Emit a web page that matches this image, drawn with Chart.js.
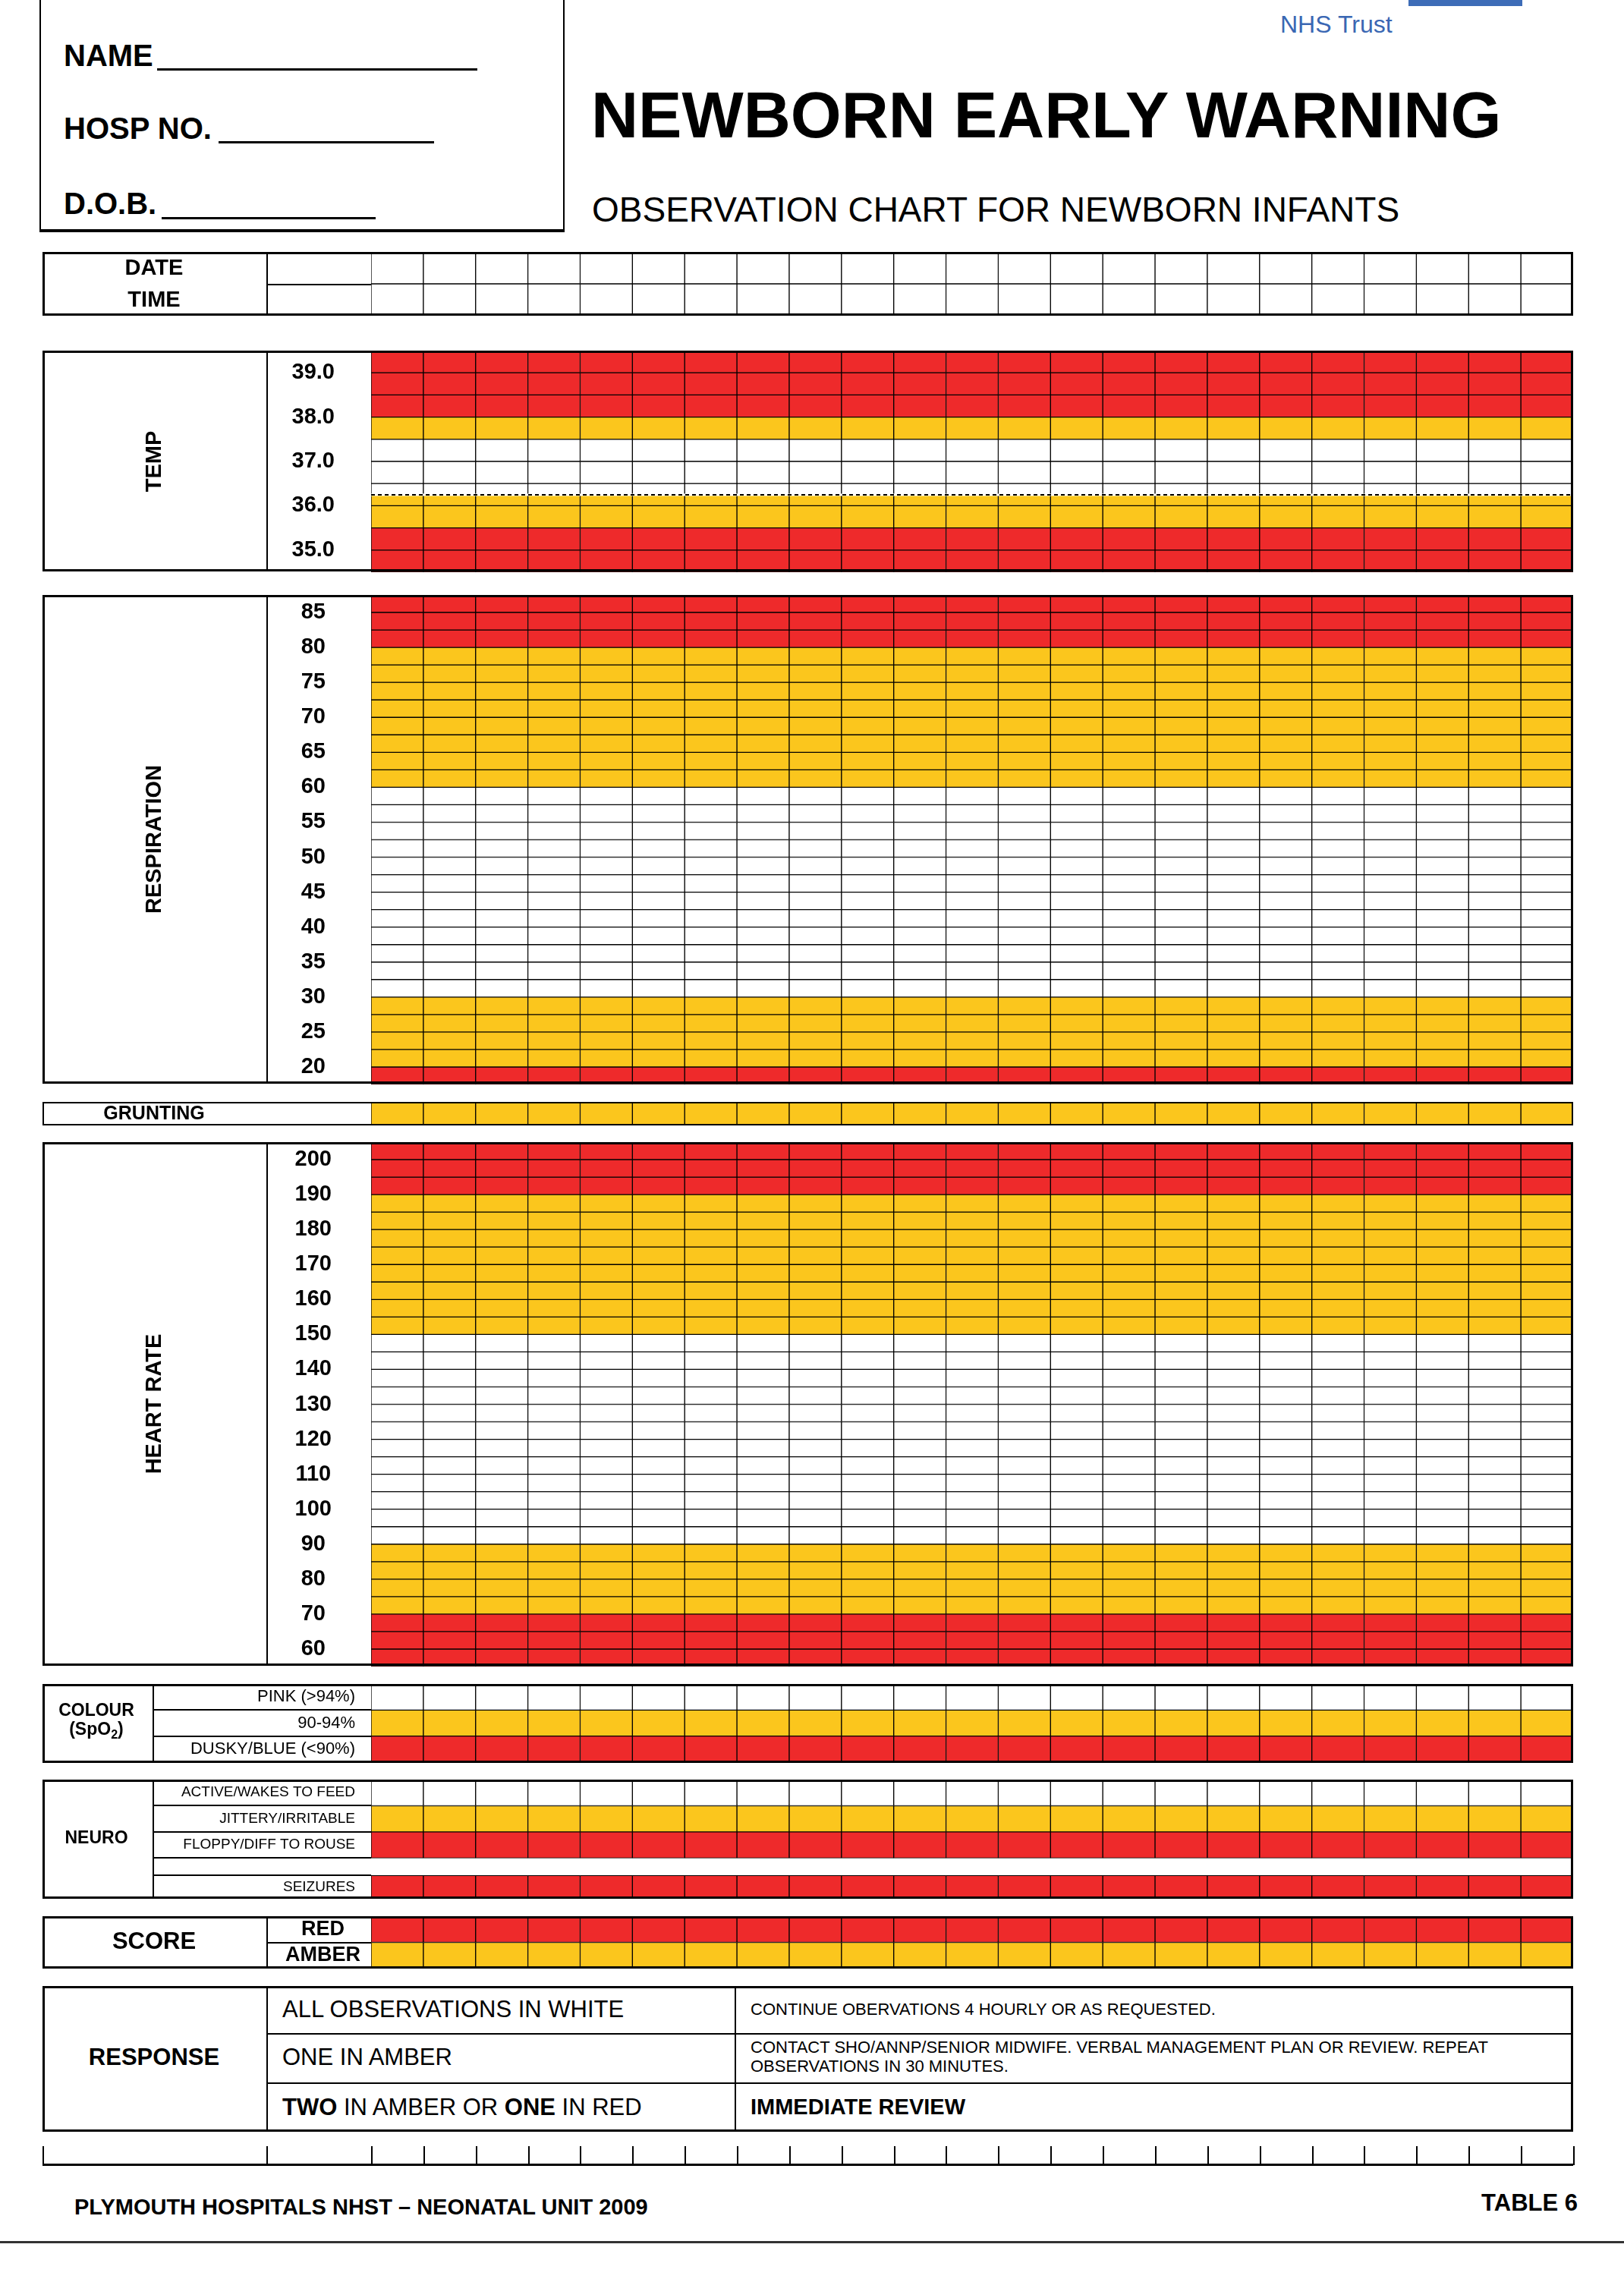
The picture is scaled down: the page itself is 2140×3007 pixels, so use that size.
<!DOCTYPE html>
<html>
<head>
<meta charset="utf-8">
<script src="https://cdn.jsdelivr.net/npm/chart.js@4/dist/chart.umd.min.js"></script>
<style>
  html, body { margin: 0; padding: 0; background: #fff; }
  body { position: relative; width: 2140px; height: 3007px; overflow: hidden; font-family: 'Liberation Sans', Arial, sans-serif; color: #000; }
  canvas { position: absolute; }
</style>
</head>
<body>
<script>
// ---- data ----
const columns = ['1','2','3','4','5','6','7','8','9','10','11','12','13','14','15','16','17','18','19','20','21','22','23'];

const tempTicks = [39, 38, 37, 36, 35];
const tempRowEdges = [39.5, 39, 38.5, 38, 37.5, 37, 36.5, 36.25, 36, 35.5, 35, 34.5];
const tempRowColours = ['R', 'R', 'R', 'A', 'W', 'W', 'W', 'A', 'A', 'R', 'R'];
const tempDashedAt = 36.25;

const respTicks = [85, 80, 75, 70, 65, 60, 55, 50, 45, 40, 35, 30, 25, 20];
const respBands = [[87.5, 80, 'R'], [80, 60, 'A'], [60, 30, 'W'], [30, 20, 'A'], [20, 17.5, 'R']];
const respStep = 2.5;

const hrTicks = [200, 190, 180, 170, 160, 150, 140, 130, 120, 110, 100, 90, 80, 70, 60];
const hrBands = [[205, 190, 'R'], [190, 150, 'A'], [150, 90, 'W'], [90, 70, 'A'], [70, 55, 'R']];
const hrStep = 5;

const colourLabels = ['PINK (>94%)', '90-94%', 'DUSKY/BLUE (<90%)'];
const colourColours = ['W', 'A', 'R'];

const neuroLabels = ['ACTIVE/WAKES TO FEED', 'JITTERY/IRRITABLE', 'FLOPPY/DIFF TO ROUSE', '', 'SEIZURES'];
const neuroColours = ['W', 'A', 'R', null, 'R'];

const scoreLabels = ['RED', 'AMBER'];
const scoreColours = ['R', 'A'];

const dateTimeLabels = ['DATE', 'TIME'];
const gruntingColours = ['A'];

const palette = { R: '#ee2a2b', A: '#fbc61d', W: '#ffffff' };

// ---- layout helpers (positions given in half-scale units) ----
const S = 2140 / 1116;
const d = v => Math.round(v * S);
const FONT = "'Liberation Sans', Arial, sans-serif";

function div(x, y, w, h, css, html) {
  const e = document.createElement('div');
  e.style.cssText = `position:absolute;box-sizing:border-box;left:${d(x)}px;top:${d(y)}px;width:${d(w)}px;height:${d(h)}px;` + (css || '');
  if (html != null) e.innerHTML = html;
  document.body.appendChild(e);
  return e;
}
function text(x, y, str, size, css) {
  const e = document.createElement('div');
  e.style.cssText = `position:absolute;left:${d(x)}px;top:${d(y)}px;transform:translateY(-50%);white-space:nowrap;font-size:${d(size)}px;line-height:1.1;` + (css || '');
  e.innerHTML = str;
  document.body.appendChild(e);
  return e;
}
function hline(x, y, w, t) { div(x, y, w, 0, `height:${t}px;background:#000;`); }
function vline(x, y, h, t) { div(x, y, 0, h, `width:${t}px;background:#000;`); }

function bandsToRows(bands, step) {
  const rows = [];
  bands.forEach(([top, bottom, c]) => {
    for (let v = top; v > bottom + 1e-9; v -= step) rows.push({ top: v, bottom: v - step, c });
  });
  return rows;
}

function gridChart(o) {
  const cv = document.createElement('canvas');
  cv.width = d(o.x2) - d(o.x1);
  cv.height = d(o.y2) - d(o.y1);
  cv.style.left = d(o.x1) + 'px';
  cv.style.top = d(o.y1) + 'px';
  document.body.appendChild(cv);

  const datasets = o.rows.filter(r => r.c).map(r => ({
    data: columns.map(() => [r.bottom, r.top]),
    backgroundColor: palette[r.c],
    borderColor: '#000',
    borderWidth: 1,
    borderSkipped: false,
    grouped: false,
    categoryPercentage: 1,
    barPercentage: 1
  }));

  const rulesPlugin = {
    id: 'rules',
    afterDatasetsDraw(chart) {
      const ctx = chart.ctx, y = chart.scales.y, a = chart.chartArea;
      ctx.save();
      if (o.rules) {
        ctx.strokeStyle = '#000'; ctx.lineWidth = 2;
        o.rules.forEach(v => {
          const p = Math.round(y.getPixelForValue(v));
          ctx.beginPath(); ctx.moveTo(0, p); ctx.lineTo(a.left, p); ctx.stroke();
        });
      }
      if (o.dashed != null) {
        const p = Math.round(y.getPixelForValue(o.dashed));
        ctx.strokeStyle = '#fff'; ctx.lineWidth = 3;
        ctx.beginPath(); ctx.moveTo(a.left, p); ctx.lineTo(a.right, p); ctx.stroke();
        ctx.strokeStyle = '#000'; ctx.lineWidth = 2; ctx.setLineDash([5, 4]);
        ctx.beginPath(); ctx.moveTo(a.left, p); ctx.lineTo(a.right, p); ctx.stroke();
      }
      ctx.restore();
    }
  };

  new Chart(cv, {
    type: 'bar',
    data: { labels: columns, datasets },
    plugins: [rulesPlugin],
    options: {
      responsive: false,
      animation: false,
      devicePixelRatio: 1,
      layout: { padding: 0 },
      plugins: { legend: { display: false }, tooltip: { enabled: false } },
      scales: {
        x: { type: 'category', display: false, offset: true },
        y: {
          type: 'linear',
          display: !!o.axisW,
          reverse: !!o.reverse,
          min: o.min, max: o.max,
          afterFit: s => { s.width = d(o.axisW || 0); s.paddingTop = 0; s.paddingBottom = 0; },
          afterBuildTicks: s => { s.ticks = (o.ticks || []).map(v => ({ value: v })); },
          grid: { display: false },
          border: { display: false },
          ticks: {
            autoSkip: false,
            color: '#000',
            padding: d(o.pad || 4),
            crossAlign: o.crossAlign || 'near',
            font: { family: FONT, size: d(o.fontSize || 15), weight: o.bold ? 'bold' : 'normal' },
            callback: o.label || (v => v.toFixed(o.decimals || 0))
          }
        }
      }
    }
  });
}

function edgesToRows(edges, colours) {
  return colours.map((c, i) => ({ top: edges[i], bottom: edges[i + 1], c }));
}
function catRows(colours, heights) {
  const edges = [0];
  heights.forEach(h => edges.push(edges[edges.length - 1] + h));
  return { rows: colours.map((c, i) => ({ top: edges[i + 1], bottom: edges[i], c })), edges };
}

const X0 = 29, XL = 183, XV = 255, X1 = 1081;
const SECT = 'border:3px solid #000;';

// ---- header ----
div(27, -4, 361, 164, 'border:2px solid #000;border-bottom-width:4px;');
text(44, 38, 'NAME', 21, 'font-weight:bold;'); hline(108, 47, 220, 3);
text(44, 88, 'HOSP NO.', 21, 'font-weight:bold;'); hline(150, 97, 148, 3);
text(44, 140, 'D.O.B.', 21, 'font-weight:bold;'); hline(111, 149, 147, 3);
text(406, 79, 'NEWBORN EARLY WARNING', 44.6, 'font-weight:bold;');
text(407, 144, 'OBSERVATION CHART FOR NEWBORN INFANTS', 24);
text(880, 17, 'NHS Trust', 16.5, 'color:#3a67b3;');
div(968, -2, 78, 6, 'background:#3d6cb7;');

// ---- date / time ----
gridChart({ x1: XV, x2: X1, y1: 173, y2: 217, min: 0, max: 2, rows: edgesToRows([2, 1, 0], ['W', 'W']) });
div(X0, 173, X1 - X0, 44, SECT);
div(XL, 173, XV - XL, 44, 'border-left:2px solid #000;');
hline(XL, 195, XV - XL, 2);
text(106, 184, dateTimeLabels[0], 15, 'font-weight:bold;transform:translate(-50%,-50%);');
text(106, 206, dateTimeLabels[1], 15, 'font-weight:bold;transform:translate(-50%,-50%);');

// ---- numeric sections ----
function numericSection(y1, y2, title, ticks, rows, min, max, extra) {
  gridChart(Object.assign({ x1: XL, x2: X1, y1, y2, min, max, rows, ticks, axisW: XV - XL, pad: 22, bold: true, fontSize: 15, crossAlign: 'center' }, extra || {}));
  div(X0, y1, X1 - X0, y2 - y1, SECT);
  vline(XL, y1, y2 - y1, 2);
  const t = text(106, (y1 + y2) / 2, title, 15, 'font-weight:bold;');
  t.style.transform = 'translate(-50%,-50%) rotate(-90deg)';
}
numericSection(241, 393, 'TEMP', tempTicks, edgesToRows(tempRowEdges, tempRowColours), 34.5, 39.5,
  { decimals: 1, dashed: tempDashedAt, pad: 21 });
numericSection(409, 745, 'RESPIRATION', respTicks, bandsToRows(respBands, respStep), 17.5, 87.5, { pad: 27 });

// grunting
gridChart({ x1: XV, x2: X1, y1: 757, y2: 773, min: 0, max: 1, rows: edgesToRows([1, 0], gruntingColours) });
div(X0, 757, X1 - X0, 16, 'border:2px solid #000;');
text(106, 765, 'GRUNTING', 13, 'font-weight:bold;transform:translate(-50%,-50%);');

numericSection(785, 1145, 'HEART RATE', hrTicks, bandsToRows(hrBands, hrStep), 55, 205, { pad: 23 });

// ---- colour ----
(function () {
  const c = catRows(colourColours, [18, 18, 18]);
  const centers = c.rows.map(r => (r.top + r.bottom) / 2);
  gridChart({ x1: 105, x2: X1, y1: 1157, y2: 1211, min: 0, max: 54, reverse: true, rows: c.rows,
    ticks: centers, axisW: XV - 105, pad: 7, fontSize: 11.5, rules: c.edges.slice(1, -1),
    label: (v, i) => colourLabels[i] });
  div(X0, 1157, X1 - X0, 54, SECT);
  vline(105, 1157, 54, 2);
  text(66, 1183, 'COLOUR<br>(SpO<sub style="font-size:70%">2</sub>)', 12, 'font-weight:bold;text-align:center;transform:translate(-50%,-50%);');
})();

// ---- neuro ----
(function () {
  const c = catRows(neuroColours, [18, 18, 18, 12, 16]);
  const centers = c.rows.map(r => (r.top + r.bottom) / 2);
  gridChart({ x1: 105, x2: X1, y1: 1223, y2: 1305, min: 0, max: 82, reverse: true, rows: c.rows,
    ticks: centers, axisW: XV - 105, pad: 7, fontSize: 10, rules: c.edges.slice(1, -1),
    label: (v, i) => neuroLabels[i] });
  div(X0, 1223, X1 - X0, 82, SECT);
  vline(105, 1223, 82, 2);
  text(66, 1263, 'NEURO', 12, 'font-weight:bold;transform:translate(-50%,-50%);');
})();

// ---- score ----
(function () {
  const c = catRows(scoreColours, [18, 18]);
  const centers = c.rows.map(r => (r.top + r.bottom) / 2);
  gridChart({ x1: XL, x2: X1, y1: 1317, y2: 1353, min: 0, max: 36, reverse: true, rows: c.rows,
    ticks: centers, axisW: XV - XL, pad: 3, fontSize: 14, bold: true, rules: c.edges.slice(1, -1),
    crossAlign: 'center', label: (v, i) => scoreLabels[i] });
  div(X0, 1317, X1 - X0, 36, SECT);
  vline(XL, 1317, 36, 2);
  text(106, 1334, 'SCORE', 16, 'font-weight:bold;transform:translate(-50%,-50%);');
})();

// ---- response ----
div(X0, 1365, X1 - X0, 100, SECT);
vline(XL, 1365, 100, 2);
vline(505, 1365, 100, 2);
hline(XL, 1397, X1 - XL, 2);
hline(XL, 1431, X1 - XL, 2);
text(106, 1414, 'RESPONSE', 16, 'font-weight:bold;transform:translate(-50%,-50%);');
text(194, 1381, 'ALL OBSERVATIONS IN WHITE', 16);
text(194, 1414, 'ONE IN AMBER', 16);
text(194, 1448, '<b>TWO</b> IN AMBER OR <b>ONE</b> IN RED', 16);
text(516, 1381, 'CONTINUE OBERVATIONS 4 HOURLY OR AS REQUESTED.', 11.5);
text(516, 1413, 'CONTACT SHO/ANNP/SENIOR MIDWIFE. VERBAL MANAGEMENT PLAN OR REVIEW. REPEAT<br>OBSERVATIONS IN 30 MINUTES.', 11.5, 'line-height:1.15;');
text(516, 1448, 'IMMEDIATE REVIEW', 15, 'font-weight:bold;');

// ---- bottom tick strip ----
hline(X0, 1487, X1 - X0, 3);
[X0, XL, XV, X1].forEach(x => vline(x, 1475, 13, 2));
columns.forEach((c, i) => vline(XV + (i + 1) * (X1 - XV) / columns.length, 1475, 13, 2));

// ---- footer ----
text(51, 1517, 'PLYMOUTH HOSPITALS NHST – NEONATAL UNIT 2009', 15, 'font-weight:bold;');
text(1084, 1514, 'TABLE 6', 16, 'font-weight:bold;transform:translate(-100%,-50%);');
div(0, 1540, 1116, 1, 'background:#333;height:3px;');
</script>
</body>
</html>
